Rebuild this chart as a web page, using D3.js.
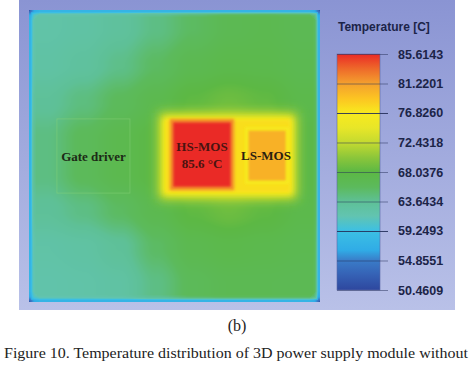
<!DOCTYPE html>
<html><head><meta charset="utf-8">
<script src="https://cdn.jsdelivr.net/npm/d3@7/dist/d3.min.js"></script>
<style>html,body{margin:0;padding:0;background:#fff;}svg{display:block;}</style>
</head><body>
<svg id="chart" width="474" height="365"></svg>
<script>
// ---------- DATA ----------
const legendTitle = "Temperature [C]";
const tickValues = [85.6143, 81.2201, 76.8260, 72.4318, 68.0376, 63.6434, 59.2493, 54.8551, 50.4609];
// colour ramp of the legend (temperature -> colour)
const rampTemps  = [50.4609, 52.6, 54.8551, 56.4, 59.2493, 61.5, 63.6434, 65.8, 68.0376, 70.2, 72.4318, 74.6, 76.8260, 79.0, 81.2201, 83.4, 85.6143];
const rampColors = ["#2e479e","#3560b4","#3a7cc8","#30ace6","#3cc0e4","#62c4b0","#5ec096","#5cba5c","#5cb844","#8cc63a","#c4da30","#e8e628","#f8ea1e","#fcc422","#f4a02e","#ee6a2a","#ea2a26"];
// board temperature field (8 x 8 coarse samples, rows top->bottom)
const boardGrid = [
  [62.2, 62.5, 63.1, 64.3, 65.6, 66.6, 66.9, 66.5],
  [62.5, 63.0, 64.1, 65.6, 66.8, 67.3, 67.2, 66.8],
  [63.4, 64.5, 65.9, 67.0, 68.2, 68.8, 68.3, 67.3],
  [64.4, 66.0, 67.0, 67.9, 69.6, 70.4, 69.8, 67.6],
  [64.4, 66.0, 67.0, 67.9, 69.6, 70.4, 69.8, 67.6],
  [63.4, 64.3, 65.6, 66.9, 68.2, 68.8, 68.2, 67.3],
  [62.3, 62.6, 63.4, 65.5, 66.9, 67.3, 67.1, 66.8],
  [62.0, 62.2, 62.6, 64.3, 66.1, 66.6, 66.6, 66.5]
];
const edgeTemp = 57.5, cornerTemp = 52.0;
// components on the board (board units 0..100)
const compNames = ["Gate driver", "HS-MOS", "LS-MOS"];
const compX0 = [9.6, 49.1, 74.9];
const compX1 = [34.7, 69.8, 88.7];
const compY0 = [37.3, 38.0, 40.8];
const compY1 = [62.7, 61.0, 58.9];
const compTemp = [null, 85.6, 80.2];
const compLabel = [["Gate driver"], ["HS-MOS", "85.6 °C"], ["LS-MOS"]];
const haloBox = {x0: 46.0, x1: 90.7, y0: 36.6, y1: 63.4, temp: 76.8};
const subLabel = "(b)";
const caption = "Figure 10. Temperature distribution of 3D power supply module without";

// ---------- DRAW ----------
const svg = d3.select("#chart");
const defs = svg.append("defs");
const color = d3.scaleLinear().domain(rampTemps).range(rampColors).interpolate(d3.interpolateRgb).clamp(true);

// panel
const pg = defs.append("linearGradient").attr("id","panelG").attr("x1",0).attr("y1",0).attr("x2",0).attr("y2",1);
pg.append("stop").attr("offset","0%").attr("stop-color","#8a94d3");
pg.append("stop").attr("offset","100%").attr("stop-color","#b9c1e8");
svg.append("rect").attr("x",19).attr("y",0).attr("width",436).attr("height",310).attr("fill","url(#panelG)");

// board
const bx = d3.scaleLinear().domain([0,100]).range([29,320]);
const by = d3.scaleLinear().domain([0,100]).range([10,302]);
const W = Math.round(bx(100)-bx(0)), H = Math.round(by(100)-by(0));
const canvas = document.createElement("canvas");
canvas.width = W; canvas.height = H;
const ctx = canvas.getContext("2d");
const img = ctx.createImageData(W,H);
const nR = boardGrid.length, nC = boardGrid[0].length;
const gx = d3.scaleLinear().domain([0, W]).range([-0.5, nC-0.5]);
const gy = d3.scaleLinear().domain([0, H]).range([-0.5, nR-0.5]);
const sm = t => t*t*(3-2*t);
for (let j=0;j<H;j++){
  for (let i=0;i<W;i++){
    let u = Math.max(0, Math.min(nC-1, gx(i+0.5)));
    let v = Math.max(0, Math.min(nR-1, gy(j+0.5)));
    const c0 = Math.min(nC-2, Math.floor(u)), r0 = Math.min(nR-2, Math.floor(v));
    const fu = sm(u-c0), fv = sm(v-r0);
    let t = (boardGrid[r0][c0]*(1-fu)+boardGrid[r0][c0+1]*fu)*(1-fv) + (boardGrid[r0+1][c0]*(1-fu)+boardGrid[r0+1][c0+1]*fu)*fv;
    // cooled rim
    const dx = Math.min(i, W-1-i), dy = Math.min(j, H-1-j);
    const de = Math.min(dx, dy);
    if (de < 7) { const w = de <= 1.5 ? 1 : Math.exp(-(de-1.5)/1.4); t = t*(1-w) + edgeTemp*w; }
    const dc = Math.hypot(dx, dy);
    if (dc < 10) { const w = Math.exp(-dc/3); t = t*(1-w) + cornerTemp*w; }
    const c = d3.rgb(color(t));
    const k = (j*W+i)*4;
    img.data[k]=c.r; img.data[k+1]=c.g; img.data[k+2]=c.b; img.data[k+3]=255;
  }
}
ctx.putImageData(img,0,0);
svg.append("image").attr("x",bx(0)).attr("y",by(0)).attr("width",W).attr("height",H)
  .attr("href", canvas.toDataURL());

// blur filters
[["b6",6],["b3",3],["b15",1.5],["b1",1]].forEach(([id,s])=>{
  defs.append("filter").attr("id",id).attr("x","-50%").attr("y","-50%").attr("width","200%").attr("height","200%")
    .append("feGaussianBlur").attr("stdDeviation",s);
});
const boardG = svg.append("g");
// hot halo
boardG.append("rect").attr("x",bx(haloBox.x0)-4).attr("y",by(haloBox.y0)-4)
  .attr("width",bx(haloBox.x1)-bx(haloBox.x0)+8).attr("height",by(haloBox.y1)-by(haloBox.y0)+8)
  .attr("fill",color(73.5)).attr("filter","url(#b6)");
boardG.append("rect").attr("x",bx(haloBox.x0)).attr("y",by(haloBox.y0))
  .attr("width",bx(haloBox.x1)-bx(haloBox.x0)).attr("height",by(haloBox.y1)-by(haloBox.y0))
  .attr("fill",color(haloBox.temp)).attr("filter","url(#b3)");
boardG.append("rect").attr("x",bx(haloBox.x0)+3).attr("y",by(haloBox.y0)+3)
  .attr("width",bx(haloBox.x1)-bx(haloBox.x0)-6).attr("height",by(haloBox.y1)-by(haloBox.y0)-6)
  .attr("fill",color(77.5)).attr("filter","url(#b15)");

compNames.forEach((n,i)=>{
  const x0=bx(compX0[i]), x1=bx(compX1[i]), y0=by(compY0[i]), y1=by(compY1[i]);
  if (compTemp[i]===null){
    boardG.append("rect").attr("x",x0).attr("y",y0).attr("width",x1-x0).attr("height",y1-y0)
      .attr("fill","none").attr("stroke","#8ad47a").attr("stroke-opacity",0.55).attr("stroke-width",0.8);
  } else {
    boardG.append("rect").attr("x",x0-2).attr("y",y0-2).attr("width",x1-x0+4).attr("height",y1-y0+4)
      .attr("fill",color(compTemp[i]-3.5)).attr("filter","url(#b15)");
    boardG.append("rect").attr("x",x0+1.5).attr("y",y0+1.5).attr("width",x1-x0-3).attr("height",y1-y0-3)
      .attr("fill",color(compTemp[i])).attr("filter","url(#b1)");
  }
  const cx=(x0+x1)/2, cy=(y0+y1)/2;
  const lines = compLabel[i];
  const lh = 17;
  lines.forEach((s,k)=>{
    boardG.append("text").attr("x", i===2 ? cx-1 : cx).attr("y", cy + (k-(lines.length-1)/2)*lh + 4.5)
      .attr("text-anchor","middle").attr("font-family","'Liberation Serif','Times New Roman',serif")
      .attr("font-weight","bold").attr("font-size",13)
      .attr("fill", i===0 ? "#1c2a16" : (i===1 ? "#4a1410" : "#2a2010")).text(s);
  });
});

// legend
const lx0 = 337, lx1 = 380, ly = d3.scaleLinear().domain([tickValues[8], tickValues[0]]).range([290,54]);
const lg = defs.append("linearGradient").attr("id","legG").attr("x1",0).attr("y1",1).attr("x2",0).attr("y2",0);
rampTemps.forEach((t,i)=>lg.append("stop").attr("offset",((t-rampTemps[0])/(rampTemps[rampTemps.length-1]-rampTemps[0])*100)+"%").attr("stop-color",rampColors[i]));
svg.append("rect").attr("x",lx0).attr("y",ly(tickValues[0])).attr("width",lx1-lx0).attr("height",ly(tickValues[8])-ly(tickValues[0]))
  .attr("fill","url(#legG)").attr("stroke","#5a6aa8").attr("stroke-width",0.6);
const axis = d3.axisRight(ly).tickValues(tickValues).tickFormat(d=>d.toFixed(4)).tickSize(-(388-lx0)).tickPadding(10);
const ag = svg.append("g").attr("transform","translate(388,0)").call(axis);
ag.select(".domain").remove();
ag.selectAll(".tick line").attr("stroke","#25305a").attr("stroke-width",1)
  .attr("stroke-opacity",(d,i)=> (i===2||i===6) ? 0.9 : 0.5);
ag.selectAll(".tick text").attr("font-family","'Liberation Sans',Arial,sans-serif").attr("font-weight","bold")
  .attr("font-size",12.5).attr("fill","#1c2448");
svg.append("text").attr("x",338).attr("y",31).attr("font-family","'Liberation Sans',Arial,sans-serif")
  .attr("font-weight","bold").attr("font-size",12).attr("fill","#1c2448").text(legendTitle);

// captions
svg.append("text").attr("x",237).attr("y",331).attr("text-anchor","middle")
  .attr("font-family","'Liberation Serif','Times New Roman',serif").attr("font-size",16).attr("fill","#222").text(subLabel);
svg.append("text").attr("x",4).attr("y",358)
  .attr("font-family","'Liberation Serif','Times New Roman',serif").attr("font-size",15.6)
  .attr("textLength",464).attr("lengthAdjust","spacingAndGlyphs").attr("fill","#222").text(caption);
</script>
</body></html>
